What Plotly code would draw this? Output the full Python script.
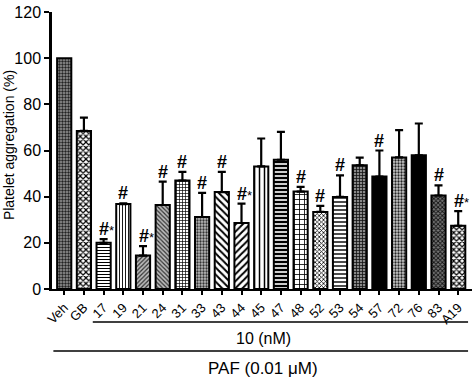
import plotly.graph_objects as go

categories = ["Veh", "GB", "17", "19", "21", "24", "31", "33", "43", "44", "45",
              "47", "48", "52", "53", "54", "57", "72", "76", "83", "A19"]
values = [100, 68.5, 20, 36.8, 14.5, 36.4, 47, 31.2, 42, 28.6, 53.1,
          56, 42.2, 33.4, 39.9, 53.6, 48.7, 57, 57.9, 40.5, 27.4]
errors = [0, 5.7, 1.6, 0.3, 4.1, 10.1, 3.7, 10.4, 8.7, 8.4, 12.1,
          12.1, 2.0, 2.6, 9.3, 3.3, 11.3, 11.8, 13.8, 4.4, 6.3]
marks = ["", "", "#*", "#", "#*", "#", "#", "#", "#", "#*", "",
         "", "#", "#", "#", "", "#", "", "", "#", "#*"]
y_ticks = [0, 20, 40, 60, 80, 100, 120]

# pattern styling per bar: (shape, size, solidity, fg, bg)
styles = [
    (".", 3, 0.5, "#222", "#999"),   # Veh
    ("x", 4, 0.5, "#000", "#fff"),   # GB
    ("-", 3, 0.35, "#000", "#fff"),  # 17
    ("|", 3, 0.3, "#000", "#fff"),   # 19
    ("/", 3, 0.4, "#333", "#bbb"),   # 21
    ("\\", 3, 0.4, "#333", "#bbb"),  # 24
    ("+", 3, 0.4, "#000", "#fff"),   # 31
    (".", 3, 0.45, "#333", "#bbb"),  # 33
    ("\\", 5, 0.4, "#000", "#fff"),  # 43
    ("/", 5, 0.4, "#000", "#fff"),   # 44
    ("|", 5, 0.3, "#000", "#fff"),   # 45
    ("-", 4, 0.6, "#000", "#fff"),   # 47
    ("+", 5, 0.3, "#000", "#fff"),   # 48
    ("x", 3, 0.45, "#000", "#fff"),  # 52
    ("-", 4, 0.35, "#000", "#fff"),  # 53
    ("+", 3, 0.45, "#111", "#888"),  # 54
    ("", 4, 0.3, "#000", "#000"),    # 57
    (".", 3, 0.45, "#222", "#ccc"),  # 72
    ("", 4, 0.3, "#000", "#000"),    # 76
    ("x", 3, 0.5, "#111", "#777"),   # 83
    ("x", 4, 0.5, "#000", "#fff"),   # A19
]

FONT = "Arial, Liberation Sans, sans-serif"
xs = list(range(len(categories)))
fig = go.Figure()
for i, (c, v, e) in enumerate(zip(categories, values, errors)):
    shp, sz, sol, fg, bg = styles[i]
    fig.add_trace(go.Bar(
        x=[i], y=[v], width=0.72,
        marker=dict(color=bg, line=dict(color="black", width=2),
                    pattern=dict(shape=shp, size=sz, solidity=sol, fgcolor=fg,
                                 bgcolor=bg, fillmode="replace")),
        error_y=dict(type="data", array=[e], arrayminus=[0], symmetric=False,
                     color="black", thickness=2.2, width=4, visible=e > 0),
        showlegend=False,
    ))

annotations = []
for i, (v, e, m) in enumerate(zip(values, errors, marks)):
    if not m:
        continue
    txt = "<b>#</b>" if m == "#" else "<b>#</b><span style='font-size:13px'>*</span>"
    annotations.append(dict(x=i, y=v + e, xref="x", yref="y", text=txt,
                            showarrow=False, yanchor="bottom", xanchor="center",
                            yshift=-2, xshift=0 if m == "#" else 3,
                            font=dict(family=FONT, size=18, color="black")))

annotations.append(dict(x=10.1, y=-0.177, xref="x", yref="paper", text="10 (nM)",
                        showarrow=False, yanchor="middle",
                        font=dict(family=FONT, size=16, color="black")))
annotations.append(dict(x=10.1, y=-0.287, xref="x", yref="paper", text="PAF (0.01 \u03bcM)",
                        showarrow=False, yanchor="middle",
                        font=dict(family=FONT, size=17, color="black")))
annotations.append(dict(x=-0.102, y=0.52, xref="paper", yref="paper",
                        text="Platelet aggregation (%)", textangle=-90,
                        showarrow=False, xanchor="center", yanchor="middle",
                        font=dict(family=FONT, size=14, color="black")))

shapes = [
    dict(type="line", xref="x", yref="paper", x0=1.45, x1=20.5, y0=-0.119, y1=-0.119,
         line=dict(color="black", width=1.5)),
    dict(type="line", xref="x", yref="paper", x0=-0.55, x1=20.5, y0=-0.224, y1=-0.224,
         line=dict(color="black", width=1.5)),
]

fig.update_layout(
    width=474, height=381,
    margin=dict(l=52, r=2, t=12, b=92, autoexpand=False),
    plot_bgcolor="white", paper_bgcolor="white",
    font=dict(family=FONT, color="black", size=13),
    annotations=annotations, shapes=shapes, bargap=0.28,
)
fig.update_xaxes(
    range=[-0.62, 20.7], tickmode="array", tickvals=xs, ticktext=categories,
    tickangle=-45, ticks="outside", ticklen=4, tickwidth=1.5, tickcolor="black",
    showline=True, linecolor="black", linewidth=2, showgrid=False, zeroline=False,
    tickfont=dict(size=13), automargin=False,
)
fig.update_yaxes(
    range=[0, 120], tickvals=y_ticks, ticks="outside", ticklen=5, tickwidth=1.5,
    tickcolor="black", showline=True, linecolor="black", linewidth=2.5,
    showgrid=False, zeroline=False, tickfont=dict(size=16), automargin=False,
)
fig.write_html("out.html", config={"displayModeBar": False},
               post_script="document.body.style.margin='0';document.body.style.overflow='hidden';")
